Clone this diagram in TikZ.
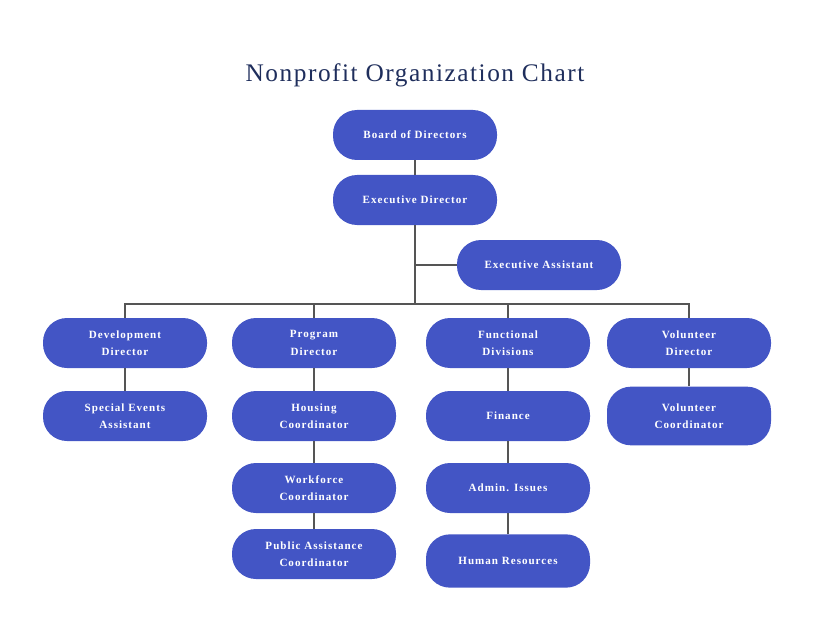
\documentclass[tikz,border=0pt]{standalone}
\usepackage{fontspec}
\setmainfont{Liberation Serif}
\newfontfamily\boxfont[LetterSpace=9]{Liberation Serif}
\usetikzlibrary{positioning}
\definecolor{boxblue}{HTML}{4355C5}
\definecolor{titlenavy}{HTML}{1F2E5C}
\definecolor{linegray}{HTML}{555555}
\begin{document}
\begin{tikzpicture}[x=0.75pt, y=-0.75pt,
  role/.style={fill=boxblue, text=white, rounded corners=18pt, minimum width=123pt,
    minimum height=37.5pt, align=center, font=\boxfont\bfseries\fontsize{8.3}{13}\selectfont},
  link/.style={draw=linegray, line width=1.8pt}]
\useasboundingbox (0,0) rectangle (817,631);
% Title
\node[text=titlenavy, font=\fontsize{19}{22}\selectfont\addfontfeature{LetterSpace=6}] (title) at (415,75) {Nonprofit Organization Chart};
% Top
\node[role] (bod) at (415,135) {Board of Directors};
\node[role] (ed) at (415,200) {Executive Director};
\node[role] (ea) at (539,265) {Executive Assistant};
\coordinate (bar) at (415,304);
% Divisions
\node[role] (dd) at (125,343) {Development\\Director};
\node[role] (pd) at (314,343) {Program\\Director};
\node[role] (fd) at (508,343) {Functional\\Divisions};
\node[role] (vd) at (689,343) {Volunteer\\Director};
% Staff
\node[role] (sea) at (125,416) {Special Events\\Assistant};
\node[role] (hc) at (314,416) {Housing\\Coordinator};
\node[role] (wc) at (314,488) {Workforce\\Coordinator};
\node[role] (pac) at (314,554) {Public Assistance\\Coordinator};
\node[role] (fin) at (508,416) {Finance};
\node[role] (adm) at (508,488) {Admin. Issues};
\node[role, minimum height=40pt] (hr) at (508,561) {Human Resources};
\node[role, minimum height=44pt] (vc) at (689,416) {Volunteer\\Coordinator};

% Lines
\draw[link] (bod) -- (ed);
\draw[link] (ed) -- (bar);
\draw[link] (ed |- ea) -- (ea);
\draw[link] (dd.north) |- (bar) -| (vd.north);
\draw[link] (pd.north) -- (pd.north |- bar);
\draw[link] (fd.north) -- (fd.north |- bar);
\draw[link] (dd) -- (sea);
\draw[link] (pd) -- (hc);
\draw[link] (hc) -- (wc);
\draw[link] (wc) -- (pac);
\draw[link] (fd) -- (fin);
\draw[link] (fin) -- (adm);
\draw[link] (adm) -- (hr);
\draw[link] (vd) -- (vc);
\end{tikzpicture}
\end{document}
